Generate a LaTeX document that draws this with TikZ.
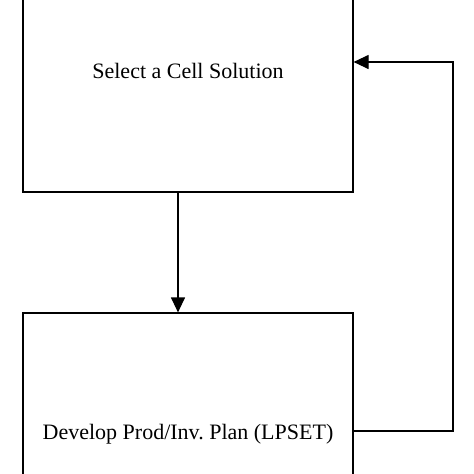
\documentclass[tikz,border=0pt]{standalone}
\usepackage{fontspec}
\setmainfont{Liberation Serif}
\usetikzlibrary{arrows.meta}

\tikzset{
	stepbox/.style={draw, line width=1.2pt, minimum width=330pt, minimum height=242pt, inner sep=0pt, font=\fontsize{22}{26}\selectfont},
	flow/.style={line width=1.2pt, -{Triangle[length=15pt,width=14pt]}}
}

\begin{document}
\begin{tikzpicture}[x=1pt,y=-1pt]
				\useasboundingbox (0,0) rectangle (474,474);
				\clip (0,0) rectangle (474,474);
				% the two steps
				\node[stepbox] (select) at (188,71) {Select a Cell Solution};
				\node[stepbox] (plan) at (188,434) {Develop Prod/Inv.\ Plan (LPSET)};
				\coordinate (turn) at (453,431);
				% connectors
				\draw[flow] ([xshift=-10pt]select.south) -- ([xshift=-10pt]plan.north);
				\draw[flow] ([yshift=3pt]plan.east) -- (turn) |- ([yshift=9pt]select.east);
			\end{tikzpicture}
\end{document}
